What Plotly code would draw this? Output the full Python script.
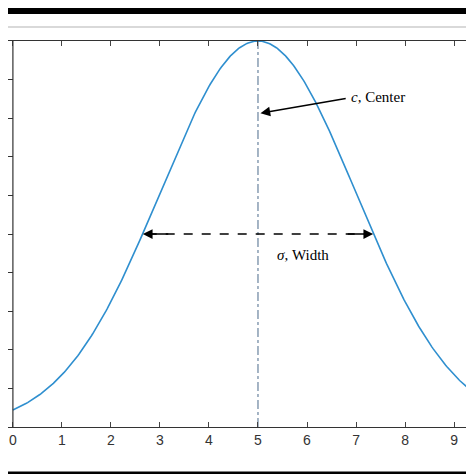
import numpy as np
import plotly.graph_objects as go

center = 5.0
sigma = 2.0
x_vals = np.linspace(0, 10, 401)
y_vals = np.exp(-(x_vals - center) ** 2 / (2 * sigma ** 2))
x_ticks = list(range(0, 11))
y_ticks = [i / 10 for i in range(11)]

fig = go.Figure()
fig.add_trace(go.Scatter(x=x_vals, y=y_vals, mode="lines",
                         line=dict(color="#2f8fcf", width=1.6), hoverinfo="skip"))
fig.add_trace(go.Scatter(x=[center, center], y=[0, 1], mode="lines",
                         line=dict(color="#4a6a8a", width=1, dash="dashdot"), hoverinfo="skip"))

fig.add_shape(type="line", x0=0, x1=0, y0=0, y1=1, line=dict(color="#333", width=1.2))
fig.add_shape(type="line", x0=2.75, x1=7.25, y0=0.5, y1=0.5,
              line=dict(color="black", width=1.5, dash="dash"))
for xa, xt in [(2.65, 3.2), (7.35, 6.8)]:
    fig.add_annotation(x=xa, y=0.5, ax=xt, ay=0.5, axref="x", ayref="y",
                       showarrow=True, arrowhead=2, arrowsize=1.3, arrowwidth=1.5,
                       arrowcolor="black", text="")
fig.add_annotation(x=5.05, y=0.813, ax=6.82, ay=0.852, axref="x", ayref="y",
                   showarrow=True, arrowhead=2, arrowsize=1.3, arrowwidth=1.5,
                   arrowcolor="black", text="")
fig.add_annotation(x=6.85, y=0.855, text="<i>c</i>, Center", showarrow=False,
                   xanchor="left", font=dict(family="Liberation Serif", size=15, color="black"))
fig.add_annotation(x=5.35, y=0.445, text="<i>σ</i>, Width", showarrow=False,
                   xanchor="left", font=dict(family="Liberation Serif", size=15, color="black"))

fig.add_shape(type="rect", xref="paper", yref="paper", x0=-0.05, x1=1.05, y0=1.07, y1=1.2,
              fillcolor="black", line=dict(width=0))
fig.add_shape(type="line", xref="paper", yref="paper", x0=-0.05, x1=1.05, y0=1.036, y1=1.036,
              line=dict(color="#cccccc", width=1.5))
fig.add_shape(type="rect", xref="paper", yref="paper", x0=-0.05, x1=1.05, y0=-0.115, y1=-0.3,
              fillcolor="black", line=dict(width=0))

fig.update_xaxes(range=[-0.1, 9.57], tickvals=x_ticks, ticks="inside", ticklen=5,
                 showline=True, linecolor="#333", linewidth=1.2, mirror="ticks",
                 showgrid=False, zeroline=False,
                 tickfont=dict(family="Liberation Sans", size=14, color="#333"))
fig.update_yaxes(range=[0, 1], tickvals=y_ticks, ticks="inside", ticklen=5,
                 tickcolor="#333", showline=False, showticklabels=False,
                 showgrid=False, zeroline=False)
fig.update_layout(width=474, height=474, margin=dict(l=0, r=0, t=33, b=55),
                  plot_bgcolor="white", paper_bgcolor="white", showlegend=False)
fig.write_html("out.html")
